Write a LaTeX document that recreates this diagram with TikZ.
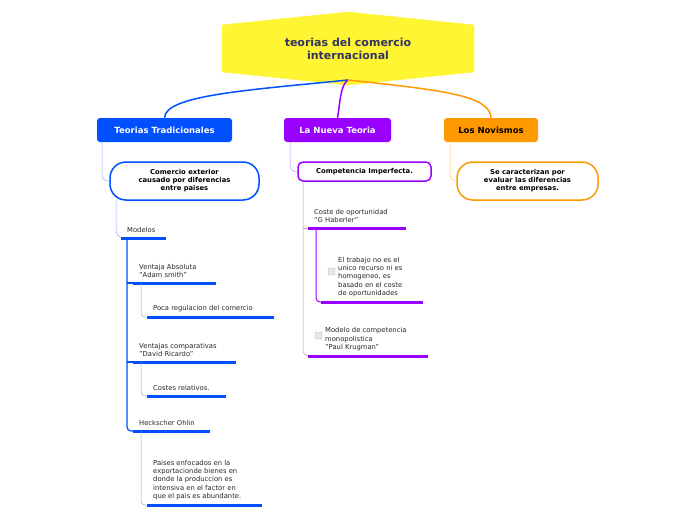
\documentclass[tikz,border=0pt]{standalone}
\usepackage{fontspec}
\setmainfont{DejaVu Sans}
\begin{document}
\begin{tikzpicture}[x=1pt,y=-1pt,
  bx/.style={rounded corners=3pt,font=\fontsize{8.5}{10}\selectfont\bfseries,inner sep=0pt},
  sub/.style={draw,line width=1.5pt,fill=white,rounded corners=10pt,align=center,font=\fontsize{6.8}{8}\selectfont\bfseries,inner sep=0pt},
  lf/.style={anchor=south west,align=left,font=\fontsize{6.8}{8.3}\selectfont,inner sep=1pt,text=black!85},
  ul/.style={line width=3pt},
  tl/.style={line width=0.5pt}]
\definecolor{cb}{HTML}{0050FF}\definecolor{cp}{HTML}{9900FF}\definecolor{co}{HTML}{FF9900}
\definecolor{lb}{HTML}{8AA8FF}\definecolor{lp}{HTML}{C98AFF}\definecolor{lo}{HTML}{FFC870}
\useasboundingbox (0,0) rectangle (696,520);
% title
\fill[yellow!80!white,draw=yellow!80!white] (222,25) -- (348,12) -- (474,25) -- (474,72) -- (348,85) -- (222,72) -- cycle;
\node (t) at (348,49) [align=center,font=\fontsize{11}{13}\selectfont\bfseries,text=black!70!blue!60!gray] {teorias del comercio\\internacional};
\coordinate (tb) at (348,80);
% main boxes
\node[bx,fill=cb,text=white,minimum width=135pt,minimum height=24pt] (a) at (164.5,130) {Teorias Tradicionales};
\node[bx,fill=cp,text=white,minimum width=107pt,minimum height=24pt] (b) at (337.5,130) {La Nueva Teoria};
\node[bx,fill=co,text=black,minimum width=94pt,minimum height=24pt] (c) at (491,130) {Los Novismos};
\draw[cb,line width=1.5pt] (tb) .. controls (250,90) and (165,95) .. (a.north);
\draw[cp,line width=1.5pt] (tb) .. controls (340,85) and (340,105) .. (b.north);
\draw[co,line width=1.5pt] (tb) .. controls (440,90) and (490,95) .. (c.north);
% subs
\node[sub,draw=cb,minimum width=149pt,minimum height=38pt,rounded corners=16pt] (a1) at (184.5,181) {Comercio exterior\\causado por diferencias\\entre paises};
\node[sub,draw=cp,minimum width=133pt,minimum height=19pt,rounded corners=5pt] (b1) at (364.5,171.5) {Competencia Imperfecta.};
\node[sub,draw=co,minimum width=141pt,minimum height=38pt,rounded corners=16pt] (c1) at (527.5,181) {Se caracterizan por\\evaluar las diferencias\\entre empresas.};
\draw[lb,tl,rounded corners=6pt] (102,142) -- (102,181) -- (a1.west);
\draw[lp,tl,rounded corners=6pt] (290,142) -- (290,171.5) -- (b1.west);
\draw[lo,tl,rounded corners=6pt] (450,142) -- (450,181) -- (c1.west);
% blue leaves
\coordinate (m) at (121,238);
\draw[lb,tl,rounded corners=8pt] (116,200) -- (116,238) -- (m);
\draw[cb,ul] (121,238) -- (166,238);
\node[lf] at (126,234) {Modelos};
\draw[cb,line width=1.2pt,rounded corners=4pt] (127,238) -- (127,431) -- (133,431);
\draw[cb,line width=1.2pt,rounded corners=4pt] (127,283) -- (133,283);
\draw[cb,line width=1.2pt,rounded corners=4pt] (127,362) -- (133,362);
\draw[cb,ul] (133,283) -- (216,283); \node[lf] at (138,279) {Ventaja Absoluta\\"Adam smith"};
\draw[lb,tl,rounded corners=4pt] (141,283) -- (141,317) -- (147,317);
\draw[cb,ul] (147,317) -- (274,317); \node[lf] at (152,313) {Poca regulacion del comercio};
\draw[cb,ul] (133,362) -- (236,362); \node[lf] at (138,358) {Ventajas comparativas\\"David Ricardo"};
\draw[lb,tl,rounded corners=4pt] (141,362) -- (141,396) -- (147,396);
\draw[cb,ul] (147,396) -- (226,396); \node[lf] at (152,392) {Costes relativos.};
\draw[cb,ul] (133,431) -- (210,431); \node[lf] at (138,427) {Heckscher Ohlin};
\draw[lb,tl,rounded corners=4pt] (141,431) -- (141,505) -- (147,505);
\draw[cb,ul] (147,505) -- (262,505); \node[lf] at (152,501) {Paises enfocados en la\\exportacionde bienes en\\donde la produccion es\\intensiva en el factor en\\que el pais es abundante.};
% purple leaves
\draw[lp,tl,rounded corners=6pt] (303,181) -- (303,356) -- (308,356);
\draw[lp,tl,rounded corners=6pt] (303,228) -- (308,228);
\draw[cp,ul] (308,228) -- (406,228); \node[lf] at (313,224) {Coste de oportunidad\\"G Haberler"};
\draw[cp,line width=1pt,rounded corners=4pt] (316,228) -- (316,302) -- (321,302);
\draw[cp,ul] (321,302) -- (423,302); \node[lf] at (337,298) {El trabajo no es el\\unico recurso ni es\\homogeneo, es\\basado en el coste\\de oportunidades};
\draw[fill=gray!20,draw=gray!50,rounded corners=1pt] (328,268) rectangle (335,275);
\draw[cp,ul] (308,356) -- (428,356); \node[lf] at (324,352) {Modelo de competencia\\monopolistica\\"Paul Krugman"};
\draw[fill=gray!20,draw=gray!50,rounded corners=1pt] (315,332) rectangle (322,339);
\end{tikzpicture}
\end{document}
